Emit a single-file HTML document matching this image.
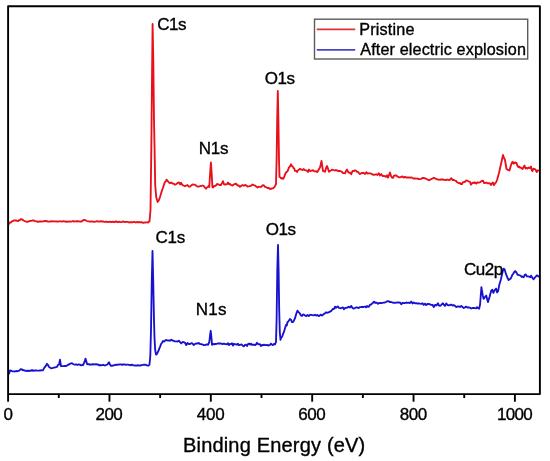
<!DOCTYPE html>
<html><head><meta charset="utf-8"><style>
html,body{margin:0;padding:0;background:#fff;}
body{width:550px;height:461px;overflow:hidden;}
svg{display:block;font-family:"Liberation Sans",Arial,sans-serif;}
text{fill:#000;stroke:#000;stroke-width:0.35px;}
</style></head><body>
<svg width="550" height="461" viewBox="0 0 550 461">
<rect x="0" y="0" width="550" height="461" fill="#fff"/>
<polyline points="8.30,224.20 9.15,223.67 10.00,222.50 11.00,222.29 12.00,221.38 13.00,220.80 14.00,220.46 15.00,220.50 16.00,220.40 17.00,220.84 18.00,221.00 19.00,220.25 20.00,220.00 20.90,219.19 21.80,219.10 22.65,219.85 23.50,220.50 24.75,221.03 26.00,221.50 27.00,221.79 28.00,221.80 29.00,221.17 30.00,221.00 31.00,220.83 32.00,220.65 33.00,220.50 34.00,220.39 35.00,221.17 36.00,221.30 37.00,221.43 38.00,221.99 39.00,221.50 40.00,221.50 41.00,221.36 42.00,221.61 43.00,221.25 44.00,221.32 45.00,221.00 46.00,221.01 47.00,221.25 48.00,221.55 49.00,221.57 50.00,221.50 51.00,221.49 52.00,221.15 53.00,221.49 54.00,221.36 55.00,221.30 56.00,221.48 57.00,221.35 58.00,221.57 59.00,221.29 60.00,221.30 61.00,221.39 62.00,221.55 63.00,221.15 64.00,221.36 65.00,221.50 66.00,221.38 67.00,221.99 68.00,221.48 69.00,221.66 70.00,221.50 71.00,221.61 72.00,221.35 73.00,221.00 74.00,221.58 75.00,221.30 76.00,221.24 77.00,221.56 78.00,221.10 79.00,221.35 80.00,221.50 81.00,221.51 82.00,221.25 83.00,220.28 84.00,219.97 85.00,220.00 86.00,220.49 87.00,221.00 88.00,221.35 89.00,221.37 90.00,221.50 91.00,221.60 92.00,221.30 93.00,221.71 94.00,221.86 95.00,221.60 96.00,221.47 97.00,221.21 98.00,221.35 99.00,221.71 100.00,221.50 101.00,221.13 102.00,221.60 103.00,221.43 104.00,221.71 105.00,221.80 106.00,221.72 107.00,221.76 108.00,222.11 109.00,221.82 110.00,221.70 111.00,222.09 112.00,221.79 113.00,221.76 114.00,222.03 115.00,222.00 116.00,221.30 117.00,221.99 118.00,222.04 119.00,221.69 120.00,222.00 121.00,222.11 122.00,221.86 123.00,221.39 124.00,221.95 125.00,222.00 126.00,221.80 127.00,221.95 128.00,222.08 129.00,222.47 130.00,222.20 131.00,222.23 132.00,222.19 133.00,222.30 134.00,221.75 135.00,222.20 136.00,222.53 137.00,221.97 138.00,222.37 139.00,222.00 140.00,222.30 141.00,222.10 142.00,222.28 143.00,222.89 144.00,222.63 145.00,222.50 146.00,222.35 147.00,222.43 148.00,222.50 148.75,221.72 149.50,221.50 150.50,210.00 151.30,150.00 152.00,80.00 152.60,24.00 153.30,60.00 154.00,120.00 154.60,150.00 155.20,185.00 156.20,197.00 157.60,202.00 159.00,200.00 160.00,197.00 161.50,192.00 162.25,189.78 163.00,187.60 164.00,184.45 165.00,182.00 165.75,181.31 166.50,179.60 167.25,180.44 168.00,181.50 169.00,182.43 170.00,183.30 171.25,182.55 172.50,183.50 173.75,183.60 175.00,184.70 176.00,184.25 177.00,183.50 178.00,182.65 179.00,182.50 180.00,184.37 181.00,182.67 182.00,184.50 183.00,185.33 184.00,185.76 185.00,186.20 186.25,185.49 187.50,185.00 188.75,186.57 190.00,186.60 191.25,185.44 192.50,184.50 193.75,184.62 195.00,184.70 196.25,185.69 197.50,186.50 198.75,186.57 200.00,186.20 201.25,186.02 202.50,185.50 203.75,185.95 205.00,187.60 206.00,188.77 207.00,187.50 207.75,187.03 208.50,186.00 209.30,187.00 210.20,172.00 210.90,162.50 211.60,172.00 212.40,187.00 213.00,187.60 214.00,185.96 215.00,186.00 216.00,185.42 217.00,184.00 218.25,184.32 219.50,185.00 220.75,185.13 222.00,183.30 223.00,181.19 224.00,184.26 225.00,184.47 226.00,184.50 227.00,184.04 228.00,182.49 229.00,184.31 230.00,184.00 231.25,185.20 232.50,185.50 233.75,184.43 235.00,184.00 236.25,183.67 237.50,185.50 238.75,185.52 240.00,186.90 241.25,185.71 242.50,185.00 243.75,185.70 245.00,185.00 246.25,185.31 247.50,186.50 248.75,186.35 250.00,186.20 251.25,185.68 252.50,184.50 253.75,185.04 255.00,185.50 256.25,186.59 257.50,187.50 258.75,186.76 260.00,186.90 261.25,186.80 262.50,185.50 263.75,185.22 265.00,186.90 266.25,187.23 267.50,188.00 268.75,187.97 270.00,189.00 271.00,188.77 272.00,188.39 273.00,188.40 274.00,187.49 275.00,186.20 276.00,184.00 276.60,160.00 277.20,120.00 277.80,90.90 278.40,120.00 279.00,160.00 279.50,177.00 280.50,177.50 281.25,178.56 282.00,178.00 283.00,178.90 284.00,177.50 285.00,174.50 285.75,172.94 286.50,172.00 287.25,171.43 288.00,170.20 289.00,167.37 290.00,166.50 291.00,164.31 292.00,166.00 292.75,166.60 293.50,168.00 294.25,168.51 295.00,170.90 296.00,170.80 297.00,172.00 297.75,170.43 298.50,170.00 299.25,169.38 300.00,168.70 301.25,169.55 302.50,170.00 303.75,169.06 305.00,170.20 306.00,170.36 307.00,170.63 308.00,172.00 309.00,169.53 310.00,171.00 311.00,170.90 312.00,170.50 313.00,170.19 314.00,171.04 315.00,171.50 316.00,171.07 317.00,172.04 318.00,171.00 319.00,169.00 320.00,167.50 321.50,160.90 323.00,171.10 324.00,171.25 325.00,171.80 326.00,168.16 327.00,166.00 328.00,168.66 329.00,171.80 330.00,171.02 331.00,170.44 332.00,169.60 333.25,169.99 334.50,170.50 335.75,170.02 337.00,170.40 338.00,171.00 339.00,170.97 340.00,171.00 341.00,171.40 342.00,171.80 343.00,173.17 344.00,173.18 345.00,173.30 346.00,171.04 347.00,169.60 347.75,171.14 348.50,172.50 349.25,172.82 350.00,172.50 351.25,174.20 352.50,171.00 353.75,171.14 355.00,170.40 356.00,170.71 357.00,171.75 358.00,171.80 359.00,173.23 360.00,174.00 361.25,173.24 362.50,173.00 363.75,172.91 365.00,174.00 366.25,172.17 367.50,173.50 368.75,173.29 370.00,173.30 371.25,173.73 372.50,174.50 373.75,174.75 375.00,174.70 376.25,174.29 377.50,175.00 378.75,173.31 380.00,175.50 381.25,174.10 382.50,176.00 383.75,176.00 385.00,176.20 386.00,176.88 387.00,175.25 388.00,177.60 389.00,175.00 390.00,172.50 391.00,176.00 392.00,177.60 393.00,177.91 394.00,175.67 395.00,175.50 396.25,175.48 397.50,176.50 398.75,177.23 400.00,177.30 401.25,176.87 402.50,176.50 403.75,177.64 405.00,176.90 406.25,177.50 407.50,177.50 408.75,177.33 410.00,177.60 411.25,177.31 412.50,178.00 413.75,178.68 415.00,178.40 416.25,178.68 417.50,178.50 418.75,179.11 420.00,179.10 421.25,178.86 422.50,178.00 423.75,177.98 425.00,178.40 426.25,178.80 427.50,179.50 428.75,180.28 430.00,179.80 431.25,179.03 432.50,178.50 433.75,177.73 435.00,178.40 436.25,178.95 437.50,179.50 438.75,179.61 440.00,179.80 441.25,179.29 442.50,179.50 443.75,179.73 445.00,179.80 446.25,180.15 447.50,179.50 448.75,180.00 450.00,179.80 451.25,178.12 452.50,180.00 453.75,179.96 455.00,180.50 456.00,180.86 457.00,182.09 458.00,182.70 459.00,183.25 460.00,183.00 461.00,183.99 462.00,184.20 463.00,182.06 464.00,182.00 465.00,181.87 466.00,180.50 467.00,180.59 468.00,181.00 469.00,181.53 470.00,181.80 471.00,184.67 472.00,183.20 473.00,182.56 474.00,183.09 475.00,182.30 476.25,183.65 477.50,182.30 478.75,182.65 480.00,182.30 481.00,181.61 482.00,180.95 483.00,180.60 484.00,182.97 485.00,183.00 486.25,182.55 487.50,183.30 488.75,183.08 490.00,183.40 491.00,185.02 492.00,183.36 493.00,182.60 493.75,185.06 494.50,184.30 495.25,182.94 496.00,182.50 497.00,180.00 499.00,173.00 501.00,164.00 503.00,155.00 504.00,157.94 505.00,160.00 506.50,169.00 507.25,169.39 508.00,170.00 508.75,170.19 509.50,170.50 511.00,165.00 512.00,162.50 512.75,161.83 513.50,163.50 514.25,163.30 515.00,162.50 515.75,162.75 516.50,163.00 517.50,166.00 518.25,167.00 519.00,166.50 519.75,167.61 520.50,167.50 521.50,168.15 522.50,169.00 523.50,167.33 524.50,165.50 525.50,168.50 526.50,167.86 527.50,168.50 528.50,167.56 529.50,168.00 530.25,167.81 531.00,166.50 531.75,170.26 532.50,171.00 533.50,168.67 534.50,169.00 535.25,169.29 536.00,170.50 536.75,172.04 537.50,170.50 538.25,170.39 539.00,171.00" fill="none" stroke="#e8101a" stroke-width="1.85" stroke-linejoin="round"/>
<polyline points="8.50,374.20 9.25,372.93 10.00,370.50 11.00,370.60 12.00,371.13 13.00,371.30 14.00,371.34 15.00,371.51 16.00,370.95 17.00,371.30 18.25,370.80 19.50,370.50 20.25,369.61 21.00,369.10 21.75,369.28 22.50,370.00 23.25,370.04 24.00,370.50 25.00,370.54 26.00,370.76 27.00,371.00 28.00,370.73 29.00,371.00 30.00,370.71 31.00,370.80 32.00,369.93 33.00,370.94 34.00,370.48 35.00,370.50 36.00,370.34 37.00,370.62 38.00,370.63 39.00,370.60 40.00,370.54 41.00,370.24 42.00,370.42 43.00,370.30 44.00,368.22 45.00,366.90 46.00,365.66 47.00,363.70 48.00,364.99 49.00,366.90 50.00,367.60 51.00,368.40 52.00,368.14 53.00,367.92 54.00,367.60 55.00,367.31 56.00,367.25 57.00,366.90 58.00,364.90 59.00,364.70 60.00,359.60 61.00,366.20 62.00,366.14 63.00,366.13 64.00,366.20 65.00,365.83 66.00,366.08 67.00,365.50 68.00,364.73 69.00,364.50 70.00,363.85 71.00,363.30 72.00,363.11 73.00,364.00 74.00,364.39 75.00,364.70 76.25,364.41 77.50,365.00 78.75,364.43 80.00,364.70 81.00,365.35 82.00,365.04 83.00,365.00 83.75,363.47 84.50,362.00 85.50,358.60 86.50,362.00 87.00,364.00 88.00,364.24 89.00,364.07 90.00,364.70 91.00,364.34 92.00,364.65 93.00,363.96 94.00,364.50 95.00,364.40 96.00,364.05 97.00,364.64 98.00,364.45 99.00,365.29 100.00,365.00 101.00,365.32 102.00,365.04 103.00,364.79 104.00,365.17 105.00,365.50 106.25,364.95 107.50,364.50 108.25,363.12 109.00,362.30 110.00,364.50 111.00,365.90 112.00,365.71 113.00,365.67 114.00,365.18 115.00,365.00 116.00,364.74 117.00,364.92 118.00,364.53 119.00,364.70 120.00,364.40 121.00,364.35 122.00,364.89 123.00,364.48 124.00,364.34 125.00,364.70 126.00,364.75 127.00,364.63 128.00,364.61 129.00,364.88 130.00,365.00 131.00,365.26 132.00,364.62 133.00,365.26 134.00,365.33 135.00,365.50 136.00,365.43 137.00,365.67 138.00,365.14 139.00,365.63 140.00,365.50 141.00,365.25 142.00,365.18 143.00,364.93 144.00,364.75 145.00,364.70 146.00,364.84 147.00,365.37 148.00,365.60 148.75,365.55 149.50,364.50 150.30,356.00 151.00,330.00 151.80,280.00 152.50,250.90 153.20,280.00 154.00,320.00 154.50,338.00 155.20,350.00 156.00,354.60 157.00,354.00 158.00,351.60 158.75,350.27 159.50,348.00 160.25,346.37 161.00,344.00 162.00,342.75 163.00,341.00 164.00,341.62 165.00,340.73 166.00,339.90 167.00,340.29 168.00,340.50 169.00,340.43 170.00,340.70 171.25,339.65 172.50,340.50 173.75,340.87 175.00,341.30 176.25,341.40 177.50,341.50 178.75,340.71 180.00,342.20 181.25,343.42 182.50,342.00 183.75,342.18 185.00,342.80 186.25,345.07 187.50,343.00 188.75,344.00 190.00,344.00 191.25,343.16 192.50,343.50 193.75,345.13 195.00,344.00 196.25,343.43 197.50,343.60 198.75,342.94 200.00,344.00 201.25,344.15 202.50,344.50 203.75,345.12 205.00,345.10 206.00,344.68 207.00,344.46 208.00,344.80 209.30,342.00 210.10,335.00 210.70,330.80 211.30,336.00 212.00,344.80 213.00,343.90 214.00,344.26 215.00,344.00 216.25,344.01 217.50,343.50 218.75,343.53 220.00,343.30 221.25,343.64 222.50,344.00 223.75,343.65 225.00,344.00 226.00,344.13 227.00,344.24 228.00,343.26 229.00,345.00 230.00,344.00 231.00,344.05 232.00,343.32 233.00,345.61 234.00,343.77 235.00,344.30 236.00,344.29 237.00,344.72 238.00,343.78 239.00,345.29 240.00,344.80 241.00,344.52 242.00,344.70 243.00,345.97 244.00,346.27 245.00,344.80 246.00,344.69 247.00,346.03 248.00,344.00 249.00,343.55 250.00,344.50 251.00,343.62 252.00,344.92 253.00,344.78 254.00,344.54 255.00,345.10 256.00,344.52 257.00,342.71 258.00,344.00 259.00,344.25 260.00,344.20 261.00,345.93 262.00,345.00 263.00,345.25 264.00,344.60 265.00,345.10 266.00,345.05 267.00,344.91 268.00,345.52 269.00,345.24 270.00,344.80 271.00,343.62 272.00,344.67 273.00,345.07 274.00,343.92 275.00,344.30 276.00,342.00 276.60,320.00 277.30,270.00 278.00,245.00 278.60,270.00 279.20,310.00 279.80,332.00 280.50,339.80 281.25,337.40 282.00,337.00 283.00,334.20 283.75,332.48 284.50,330.00 286.00,325.00 286.75,325.47 287.50,322.00 288.25,321.58 289.00,320.50 290.00,319.06 291.00,319.70 292.00,322.15 293.00,322.00 294.00,320.41 295.00,318.20 296.50,313.00 297.50,310.60 298.25,311.88 299.00,312.50 300.00,313.70 301.00,315.50 302.00,316.00 303.00,314.40 304.00,314.66 305.00,315.50 306.25,316.06 307.50,315.00 308.75,316.11 310.00,314.80 311.25,314.82 312.50,315.20 313.75,315.33 315.00,314.80 316.25,315.56 317.50,315.00 318.75,316.15 320.00,315.30 321.00,314.60 322.00,315.62 323.00,314.80 324.00,313.92 325.00,313.40 326.00,312.25 327.00,312.74 328.00,312.60 329.00,312.24 330.00,311.61 331.00,311.20 332.00,309.96 333.00,308.99 334.00,309.00 335.00,306.66 336.00,307.88 337.00,306.80 338.00,306.50 339.00,307.94 340.00,308.07 341.00,308.30 342.00,307.68 343.00,307.50 344.00,309.20 345.00,308.00 346.25,307.81 347.50,307.50 348.75,306.66 350.00,307.50 351.25,305.94 352.50,308.00 353.75,308.57 355.00,308.00 356.25,307.44 357.50,307.50 358.75,308.04 360.00,307.10 361.25,306.99 362.50,306.80 363.75,307.01 365.00,306.50 366.00,307.29 367.00,306.07 368.00,306.80 369.00,306.57 370.00,304.60 371.00,304.57 372.00,303.60 373.00,302.70 374.00,301.65 375.00,302.82 376.00,302.50 377.00,302.85 378.00,303.90 379.00,303.05 380.00,302.80 381.25,303.18 382.50,302.80 383.75,302.64 385.00,302.50 386.00,302.00 387.00,301.40 388.00,301.10 389.00,301.47 390.00,302.10 391.25,302.04 392.50,302.50 393.75,302.78 395.00,302.80 396.25,302.55 397.50,302.30 398.75,302.61 400.00,302.50 401.25,304.33 402.50,302.80 403.75,303.09 405.00,303.00 406.25,302.52 407.50,302.80 408.75,302.62 410.00,303.00 411.25,301.59 412.50,303.50 413.75,302.45 415.00,303.30 416.25,303.22 417.50,303.50 418.75,303.47 420.00,303.70 421.25,303.84 422.50,303.30 423.75,304.96 425.00,303.70 426.25,305.08 427.50,304.00 428.75,303.92 430.00,304.40 431.25,304.95 432.50,304.80 433.75,307.07 435.00,305.00 435.75,304.85 436.50,305.50 437.25,304.36 438.00,303.30 439.00,305.50 440.00,305.90 440.75,305.49 441.50,304.50 442.25,303.91 443.00,303.30 444.00,305.00 445.00,305.90 446.25,303.38 447.50,305.00 448.75,305.25 450.00,305.00 451.25,304.60 452.50,305.50 453.75,305.14 455.00,305.90 456.25,307.05 457.50,306.50 458.75,306.31 460.00,307.00 461.25,305.88 462.50,307.00 463.75,307.99 465.00,307.40 466.25,306.60 467.50,307.50 468.75,307.42 470.00,307.70 471.25,308.52 472.50,308.00 473.75,307.86 475.00,308.20 476.00,308.39 477.00,307.16 478.00,308.20 479.20,308.60 480.10,304.30 480.80,295.00 481.40,287.20 482.20,292.00 482.90,296.00 483.60,298.90 484.40,297.95 485.20,296.70 486.30,295.60 487.10,299.00 487.90,302.10 489.60,296.70 491.20,290.70 492.30,289.70 493.40,292.90 494.70,290.20 496.10,288.60 497.10,292.40 498.20,290.70 499.30,284.80 500.90,279.40 502.60,271.80 503.70,268.60 504.60,269.50 506.10,274.40 507.35,277.33 508.60,280.10 509.57,279.08 510.53,278.79 511.50,276.80 512.30,274.89 513.10,274.00 514.10,272.20 515.10,271.10 516.40,272.30 517.60,274.80 518.40,274.90 519.20,275.20 520.05,275.45 520.90,276.00 521.70,276.94 522.50,276.50 523.70,277.20 524.75,274.80 525.80,274.40 526.80,276.43 527.80,276.40 529.05,276.60 530.30,277.20 531.10,275.60 532.35,277.76 533.60,279.30 534.80,277.60 536.00,276.40 536.80,275.35 537.60,275.60 538.35,276.49 539.10,276.40" fill="none" stroke="#1812d0" stroke-width="1.85" stroke-linejoin="round"/>
<rect x="8.1" y="6.2" width="531.80" height="387.90" fill="none" stroke="#000" stroke-width="1.9" stroke-linejoin="round"/>
<line x1="8.10" y1="394.1" x2="8.10" y2="401.70" stroke="#000" stroke-width="1.9" stroke-linecap="butt"/>
<line x1="58.78" y1="394.1" x2="58.78" y2="398.00" stroke="#000" stroke-width="1.9" stroke-linecap="butt"/>
<line x1="109.46" y1="394.1" x2="109.46" y2="401.70" stroke="#000" stroke-width="1.9" stroke-linecap="butt"/>
<line x1="160.14" y1="394.1" x2="160.14" y2="398.00" stroke="#000" stroke-width="1.9" stroke-linecap="butt"/>
<line x1="210.82" y1="394.1" x2="210.82" y2="401.70" stroke="#000" stroke-width="1.9" stroke-linecap="butt"/>
<line x1="261.50" y1="394.1" x2="261.50" y2="398.00" stroke="#000" stroke-width="1.9" stroke-linecap="butt"/>
<line x1="312.18" y1="394.1" x2="312.18" y2="401.70" stroke="#000" stroke-width="1.9" stroke-linecap="butt"/>
<line x1="362.86" y1="394.1" x2="362.86" y2="398.00" stroke="#000" stroke-width="1.9" stroke-linecap="butt"/>
<line x1="413.54" y1="394.1" x2="413.54" y2="401.70" stroke="#000" stroke-width="1.9" stroke-linecap="butt"/>
<line x1="464.22" y1="394.1" x2="464.22" y2="398.00" stroke="#000" stroke-width="1.9" stroke-linecap="butt"/>
<line x1="514.90" y1="394.1" x2="514.90" y2="401.70" stroke="#000" stroke-width="1.9" stroke-linecap="butt"/>
<rect x="314.5" y="19.2" width="213.2" height="39.8" fill="#fff" stroke="#5c5c5c" stroke-width="1.4"/>
<line x1="316.8" y1="29.4" x2="355.2" y2="29.4" stroke="#d83434" stroke-width="1.7"/>
<line x1="316.8" y1="49.9" x2="355.2" y2="49.9" stroke="#4646c8" stroke-width="1.7"/>
<text x="157.20" y="29.6" font-size="17.0" letter-spacing="-0.43">C1s</text>
<text x="198.70" y="153.7" font-size="17.0" letter-spacing="-0.15">N1s</text>
<text x="264.85" y="83.5" font-size="17.0" letter-spacing="-0.48">O1s</text>
<text x="155.60" y="243.0" font-size="17.0" letter-spacing="-0.28">C1s</text>
<text x="195.85" y="315.0" font-size="17.0" letter-spacing="0.20">N1s</text>
<text x="265.75" y="234.7" font-size="17.0" letter-spacing="-0.48">O1s</text>
<text x="464.10" y="275.4" font-size="17.0" letter-spacing="-0.53">Cu2p</text>
<text x="359.15" y="34.5" font-size="16.2" letter-spacing="0.19">Pristine</text>
<text x="360.30" y="55.1" font-size="16.2" letter-spacing="0.12">After electric explosion</text>
<text x="183.00" y="451.9" font-size="20.0" letter-spacing="0.18">Binding Energy (eV)</text>
<text x="3.50" y="420.0" font-size="17.0">0</text>
<text x="95.60" y="420.0" font-size="17.0" letter-spacing="-0.57">200</text>
<text x="196.70" y="420.0" font-size="17.0" letter-spacing="-0.23">400</text>
<text x="298.20" y="420.0" font-size="17.0" letter-spacing="-0.45">600</text>
<text x="399.65" y="420.0" font-size="17.0" letter-spacing="-0.38">800</text>
<text x="497.00" y="420.0" font-size="17.0" letter-spacing="-0.72">1000</text>
</svg>
</body></html>
